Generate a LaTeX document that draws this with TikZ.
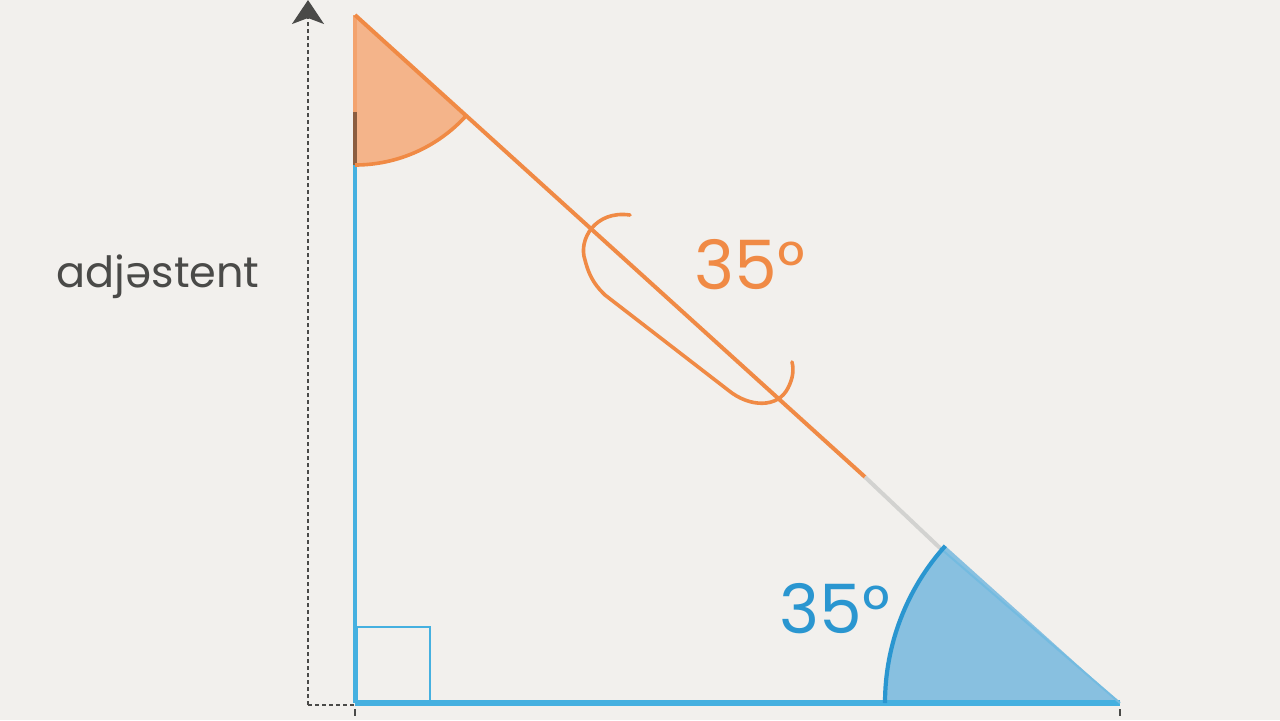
\documentclass[tikz,border=0pt]{standalone}
\usepackage{fontspec}
\setmainfont{Poppins}
\newfontfamily\schwafont{DejaVu Sans}
\usetikzlibrary{arrows.meta}
\definecolor{bgc}{HTML}{F2F0ED}
\definecolor{orangeL}{HTML}{F08A45}
\definecolor{orangeF}{HTML}{F4B48A}
\definecolor{blueL}{HTML}{45B0E0}
\definecolor{blueA}{HTML}{2A96D0}
\definecolor{blueF}{HTML}{88C0E0}
\definecolor{grayS}{HTML}{D2D2D0}
\definecolor{darkT}{HTML}{4A4A48}
\definecolor{brownS}{HTML}{8C5E40}
\tikzset{
  leg/.style={line width=2pt, blueL},
  hyp/.style={line width=2pt, orangeL},
  guide/.style={line width=0.6pt, darkT, dash pattern=on 2pt off 1.5pt},
  deg/.style={font=\fontsize{34}{34}\selectfont, inner sep=0pt},
}
\begin{document}
\begin{tikzpicture}[x=0.5pt,y=-0.5pt]
\fill[bgc] (0,0) rectangle (1280,720);
\useasboundingbox (0,0) rectangle (1280,720);
% vertices
\coordinate (T) at (355,15);
\coordinate (C) at (355,703);
\coordinate (B) at (1120,703);
\coordinate (H1) at (865,477);
\coordinate (H2) at (940,548);
\coordinate (V1) at (355,165);
\coordinate (V2) at (355,112);
% wedges
\fill[orangeF] (T) -- ++(90:150) arc[start angle=90,end angle=41.97,radius=150] -- cycle;
\fill[blueF] (B) -- ++(180:235) arc[start angle=180,end angle=221.97,radius=235] -- cycle;
% legs
\draw[leg] (C) -- (V1);
\draw[line width=2pt, orangeF!60!orangeL] (V1) -- (T);
\draw[line width=2pt, brownS] (V1) -- (V2);
\draw[line width=2.6pt, blueL] (C) -- (B);
% hypotenuse
\draw[hyp] (T) -- (H1);
\draw[line width=2pt, grayS] (H1) -- (H2);
\draw[line width=1pt, blueF!70!blueL] (H2) -- (B);
% arcs
\draw[line width=1.8pt, orangeL] (355,165) arc[start angle=90,end angle=41.97,radius=150];
\draw[line width=2.1pt, blueA] (885,703) arc[start angle=180,end angle=221.97,radius=235];
% right angle
\draw[line width=0.8pt, blueL] (357,627) rectangle (430,701);
% guides
\coordinate (G0) at (308,705);
\coordinate (G1) at (308,0);
\draw[guide, -{Stealth[length=12pt,width=16pt,inset=3pt]}] (G0) -- (G1);
\draw[guide] (G0) -- (355,705);
\draw[line width=0.6pt, darkT] (355,709) -- (355,716);
\draw[line width=0.6pt, darkT] (1120,709) -- (1120,716);
% bracket loop
\draw[line width=1.8pt, orangeL, line cap=round]
  (630,215) .. controls (595,210) and (578,240) .. (585,260)
  .. controls (590,280) and (598,288) .. (605,295)
  -- (728,390)
  .. controls (750,408) and (778,408) .. (788,388)
  .. controls (793,378) and (794,370) .. (792,362);
% labels
\node[deg, text=orangeL] (a1) at (750,265) {35°};
\node[deg, text=blueA] (a2) at (835,609) {35°};
\node[font=\fontsize{21.5}{21.5}\selectfont, text=darkT, inner sep=0pt] (lab) at (158,277) {adj{\schwafont ə}stent};
\end{tikzpicture}
\end{document}
